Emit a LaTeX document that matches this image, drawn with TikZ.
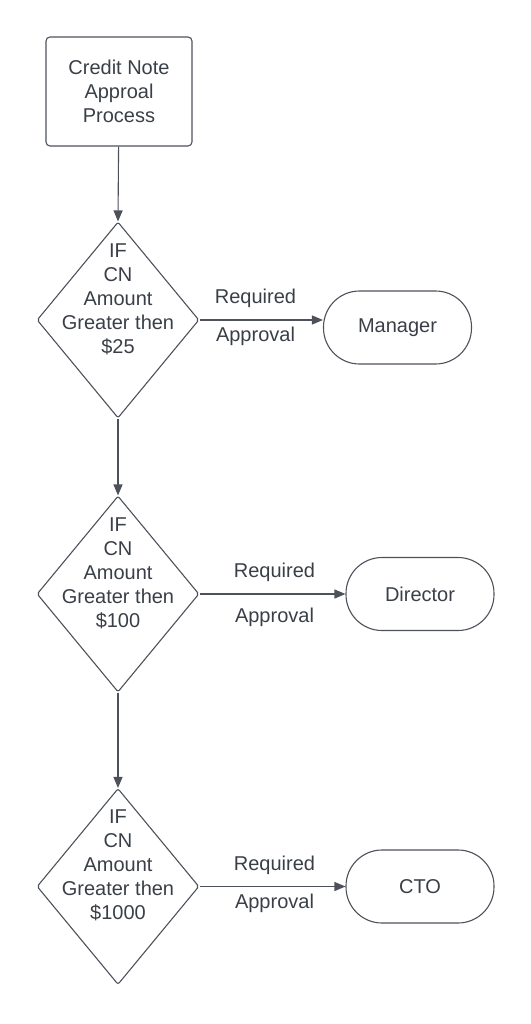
\documentclass[tikz,border=0pt]{standalone}
\usepackage{fontspec}
\setmainfont{Liberation Sans}
\usetikzlibrary{shapes.geometric,arrows.meta}
\definecolor{linec}{HTML}{4D525A}
\definecolor{textc}{HTML}{3A3F47}
\begin{document}
\begin{tikzpicture}[x=1pt,y=-1pt,
  every node/.style={text=textc,font=\fontsize{20}{24}\selectfont},
  startbox/.style={draw=linec,line width=1.1pt,rectangle,rounded corners=4pt,
    minimum width=146pt,minimum height=109pt,align=center,inner sep=0pt},
  decision/.style={draw=linec,line width=1.1pt,diamond,rounded corners=2pt,
    minimum width=162pt,minimum height=196pt,inner sep=0pt},
  dtext/.style={align=center,yshift=21pt},
  pill/.style={draw=linec,line width=1.1pt,rectangle,rounded corners=36pt,
    minimum width=148pt,minimum height=73pt,inner sep=0pt},
  conn/.style={draw=linec,line width=1.1pt,-{Triangle[length=11pt,width=9pt]}},
  lbl/.style={inner sep=0pt}
]
\useasboundingbox (0,0) rectangle (530,1024);
\node[startbox] (start) at (119,91.5) {Credit Note\\Approal\\Process};
\node[decision,label={[dtext]center:IF\\CN\\Amount\\Greater then\\\$25}] (d1) at (118,320) {};
\node[decision,label={[dtext]center:IF\\CN\\Amount\\Greater then\\\$100}] (d2) at (118,594) {};
\node[decision,label={[dtext]center:IF\\CN\\Amount\\Greater then\\\$1000}] (d3) at (118,886.5) {};
\node[pill] (mgr) at (397.5,327.5) {Manager};
\node[pill] (dir) at (420,594) {Director};
\node[pill] (cto) at (420,886.5) {CTO};
\draw[conn] (start) -- (d1.north);
\draw[conn] (d1.south) -- (d2.north);
\draw[conn] (d2.south) -- (d3.north);
\draw[conn] (d1.east) -- (d1.east -| mgr.west);
\draw[conn] (d2.east) -- (dir.west);
\draw[conn] (d3.east) -- (cto.west);
\node[lbl] (r1) at (255.5,298) {Required};
\node[lbl] (a1) at (255.5,336) {Approval};
\node[lbl] (r2) at (274.5,572) {Required};
\node[lbl] (a2) at (274.5,617) {Approval};
\node[lbl] (r3) at (274.5,865) {Required};
\node[lbl] (a3) at (274.5,903) {Approval};
\end{tikzpicture}
\end{document}
